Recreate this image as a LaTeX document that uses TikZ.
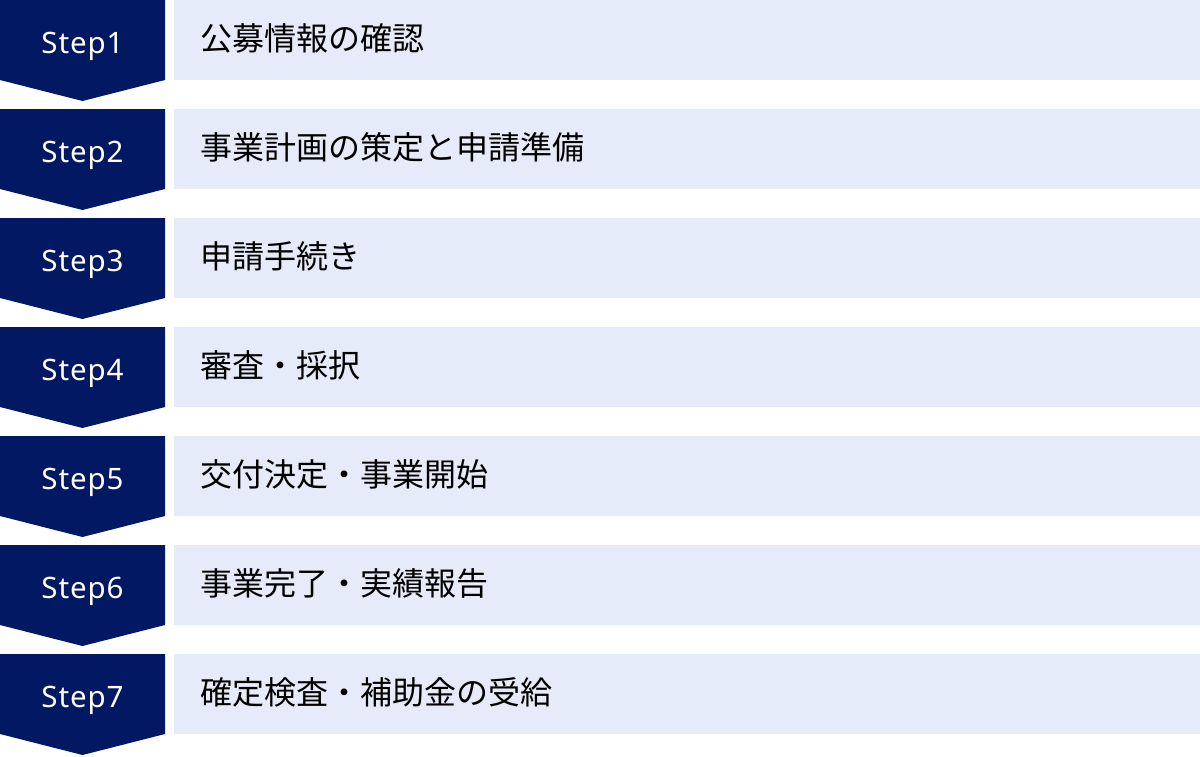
\documentclass[tikz,border=0pt]{standalone}
\usepackage{fontspec}
\setmainfont{Noto Sans}
\newfontfamily\jpfont{Noto Sans CJK JP}
\newfontfamily\stepfont[LetterSpace=3]{Noto Sans}
\definecolor{navy}{RGB}{3,24,98}
\definecolor{lightbox}{RGB}{229,235,248}
\tikzset{
  chevron/.style={fill=navy},
  stepbox/.style={fill=lightbox},
  steplabel/.style={text=white, inner sep=0pt, anchor=base, font=\stepfont\fontsize{29.5}{36}\selectfont},
  tasklabel/.style={text=black, inner sep=0pt, anchor=west, font=\jpfont\fontsize{32}{38}\selectfont},
}
\begin{document}
\begin{tikzpicture}[x=1pt,y=-1pt]
\useasboundingbox (0,0) rectangle (1200,756);
\foreach \i/\t in {0/公募情報の確認,1/事業計画の策定と申請準備,2/申請手続き,3/審査・採択,4/交付決定・事業開始,5/事業完了・実績報告,6/確定検査・補助金の受給}{
  \pgfmathsetmacro{\top}{109*\i}
  \pgfmathtruncatemacro{\n}{\i+1}
  \fill[chevron] (0,\top) -- (165,\top) -- (165,\top+80) -- (82.5,\top+101) -- (0,\top+80) -- cycle;
  \fill[stepbox] (174,\top) rectangle (1200,\top+80);
  \node[steplabel] (step\n) at (82.5,\top+53) {Step\n};
  \node[tasklabel] (task\n) at (200,\top+38) {\t};
}
\end{tikzpicture}
\end{document}
